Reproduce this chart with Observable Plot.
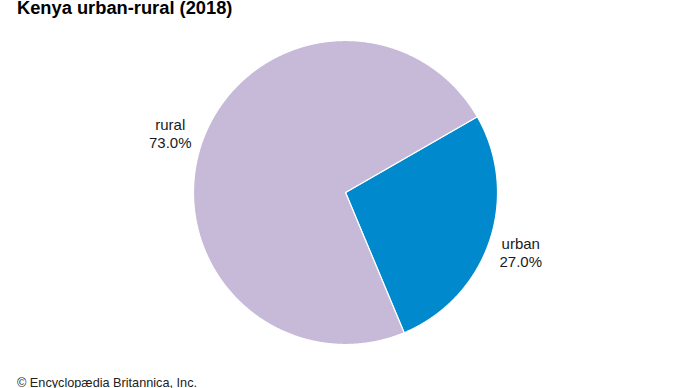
<!DOCTYPE html>
<html>
<head>
<meta charset="utf-8">
<script src="https://cdn.jsdelivr.net/npm/d3@7"></script>
<script src="https://cdn.jsdelivr.net/npm/@observablehq/plot@0.6"></script>
<style>
  html, body { margin: 0; padding: 0; background: #fff; }
  #wrap { position: relative; width: 690px; height: 388px; overflow: hidden; font-family: "Liberation Sans", Arial, sans-serif; }
  #title { position: absolute; left: 17px; top: -1px; font-size: 18.3px; line-height: 18px; font-weight: bold; color: #000; white-space: nowrap; }
  #caption { position: absolute; left: 17px; top: 377px; font-size: 12.7px; line-height: 13px; color: #222; white-space: nowrap; }
  #chart { position: absolute; left: 0; top: 0; }
</style>
</head>
<body>
<div id="wrap">
  <div id="chart"></div>
  <div id="title">Kenya urban-rural (2018)</div>
  <div id="caption">© Encyclopædia Britannica, Inc.</div>
</div>
<script>
const categories = ["urban", "rural"];
const shares = [27.0, 73.0];
const colors = ["#0089cd", "#c6bad8"];
const labels = ["urban\n27.0%", "rural\n73.0%"];

const startDeg = 60.1;
const R = 152;
const labelR = 185;

const pie = d3.pie().sort(null)
  .startAngle(startDeg * Math.PI / 180)
  .endAngle(startDeg * Math.PI / 180 + 2 * Math.PI)(shares);

// Build slice outlines (wedge polygons) from pie angles
const slicePts = [];
pie.forEach((a, i) => {
  slicePts.push({cat: categories[i], x: 0, y: 0});
  const n = Math.max(8, Math.ceil((a.endAngle - a.startAngle) / (Math.PI / 720)));
  for (let k = 0; k <= n; k++) {
    const t = a.startAngle + (a.endAngle - a.startAngle) * k / n;
    slicePts.push({cat: categories[i], x: R * Math.sin(t), y: R * Math.cos(t)});
  }
});

const labelData = pie.map((a, i) => {
  const m = (a.startAngle + a.endAngle) / 2;
  return {cat: categories[i], text: labels[i], x: labelR * Math.sin(m), y: labelR * Math.cos(m)};
});

const chart = Plot.plot({
  width: 690,
  height: 388,
  margin: 0,
  style: {background: "transparent", fontFamily: "Liberation Sans, Arial, sans-serif"},
  x: {domain: [-345, 345], axis: null},
  y: {domain: [-196, 192], axis: null},
  color: {domain: categories, range: colors},
  marks: [
    Plot.line(slicePts, {x: "x", y: "y", z: "cat", fill: "cat", stroke: "#fff", strokeWidth: 1.2, curve: "linear-closed"}),
    Plot.text(labelData, {x: "x", y: "y", text: "text", fontSize: 15, lineHeight: 1.2, lineAnchor: "middle", textAnchor: "middle", fill: "#1a1a1a"})
  ]
});
document.getElementById("chart").appendChild(chart);
</script>
</body>
</html>
